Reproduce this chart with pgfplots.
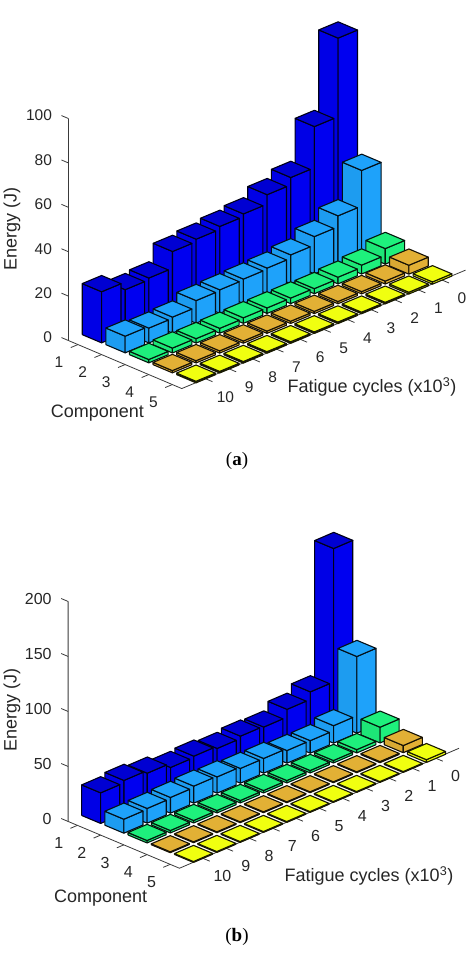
\documentclass[border=0pt]{standalone}
\usepackage{fontspec}
\setmainfont{Liberation Sans}
\newfontfamily\capfont{Liberation Serif}
\usepackage{pgfplots}
\usepackage{pgfplotstable}
\pgfplotsset{compat=1.18}

\definecolor{col1}{HTML}{0000F0}
\definecolor{col2}{HTML}{1EA2FA}
\definecolor{col3}{HTML}{1EF07C}
\definecolor{col4}{HTML}{E2B035}
\definecolor{col5}{HTML}{F0FF10}
\definecolor{top1}{HTML}{0000D2}
\definecolor{top2}{HTML}{1EA2FA}
\definecolor{top3}{HTML}{1EF07C}
\definecolor{top4}{HTML}{E2B035}
\definecolor{top5}{HTML}{F0FF10}
\definecolor{axcol}{HTML}{3A3A3A}

% energy per fatigue cycle (rows) and component (columns)
\pgfplotstableread{
f  c1   c2   c3  c4  c5
0  92.8 37.7 7.0 4.0 1.0
1  57.4 21.7 4.0 1.3 0.8
2  38.9 16.8 3.0 1.0 0.7
3  35.6 13.0 2.3 1.0 0.7
4  31.4 11.5 2.5 1.0 0.7
5  30.2 11.0 2.5 1.0 0.7
6  28.9 10.6 2.5 1.0 0.7
7  27.8 10.2 2.2 1.0 0.7
8  20.3  7.2 2.0 1.0 0.7
9  19.5  6.7 2.2 1.0 0.7
10 23.0  7.5 1.5 1.0 0.7
}\tableA

\pgfplotstableread{
f  c1    c2   c3   c4  c5
0  159.0 69.7 14.3 6.5 2.5
1  37.8  15.9 3.0  1.0 0.8
2  31.0  11.4 2.2  0.8 0.8
3  24.0  11.5 2.2  0.8 0.8
4  24.8  13.4 2.2  0.8 0.8
5  22.7  13.4 2.2  0.8 0.8
6  24.8  14.8 2.2  0.8 0.8
7  23.6  15.5 2.2  0.8 0.8
8  27.5  14.3 2.2  0.8 0.8
9  30.0  13.4 2.2  0.8 0.8
10 27.8  12.7 2.2  0.8 0.8
}\tableB

\pgfplotsset{
  chart3d/.style={
    hide axis, disabledatascaling, clip=false, anchor=origin,
    xmin=-1, xmax=11, ymin=0, ymax=7, zmin=0,
  },
  face/.style={line width=1.1pt, line join=round},
}

% one bar: f, component, height, colour number
\newcommand\onebar[4]{%
  \pgfmathsetmacro\xa{#1-0.41}\pgfmathsetmacro\xb{#1+0.41}%
  \pgfmathsetmacro\ya{#2-0.41}\pgfmathsetmacro\yb{#2+0.41}%
  \edef\tmp{%
    \noexpand\addplot3[face,draw=col#4!10!black,fill=col#4!96!black] coordinates {(\xb,\ya,0)(\xb,\yb,0)(\xb,\yb,#3)(\xb,\ya,#3)(\xb,\ya,0)};
    \noexpand\addplot3[face,draw=col#4!10!black,fill=col#4] coordinates {(\xb,\yb,0)(\xa,\yb,0)(\xa,\yb,#3)(\xb,\yb,#3)(\xb,\yb,0)};
    \noexpand\addplot3[face,draw=col#4!10!black,fill=top#4] coordinates {(\xb,\ya,#3)(\xb,\yb,#3)(\xa,\yb,#3)(\xa,\ya,#3)(\xb,\ya,#3)};
  }\tmp
}

% back to front: component 1 to 5, cycle 0 to 10
\newcommand\allbars[1]{%
  \pgfplotsforeachungrouped \cc in {1,...,5}{%
    \pgfplotsforeachungrouped \ff in {0,...,10}{%
      \pgfplotstablegetelem{\ff}{c\cc}\of{#1}%
      \edef\tmpb{\noexpand\onebar{\ff}{\cc}{\pgfplotsretval}{\cc}}\tmpb
    }%
  }%
}

\newcommand\floorlines[3]{%
  \draw[axcol,line width=0.8pt] (axis cs:11,0.6,#1) -- (axis cs:11,0.6,0) -- (axis cs:11,5.4,0) -- (axis cs:-1,5.4,0);
  \pgfplotsinvokeforeach{#2}{%
    \draw[axcol,line width=0.8pt] (axis cs:11,0.6,##1) -- (axis cs:11,0.3,##1);
    \node[anchor=east,text=black!85,xshift=-6pt,font=\fontsize{#3}{18}\selectfont] at (axis cs:11,0.3,##1) {##1};
  }
  \pgfplotsinvokeforeach{1,...,5}{%
    \draw[axcol,line width=0.8pt] (axis cs:11,##1,0) -- (axis cs:11.3,##1,0);
    \node[text=black!85,font=\fontsize{#3}{18}\selectfont] at (axis cs:12.3,##1.5,0) {##1};
  }
  \pgfplotsinvokeforeach{0,...,10}{%
    \draw[axcol,line width=0.8pt] (axis cs:##1,5.4,0) -- (axis cs:##1,5.7,0);
    \node[text=black!85,font=\fontsize{#3}{18}\selectfont] at (axis cs:##1+0.5,6.75,0) {##1};
  }
}

\begin{document}
\begin{tikzpicture}
\useasboundingbox (0,0) rectangle (474pt,955pt);

\begin{axis}[chart3d, at={(314.5pt,729pt)}, zmax=100,
  x={(-23.65pt,-9.87pt)}, y={(23.6pt,-10pt)}, z={(0pt,2.22pt)}]
\floorlines{100}{0,20,...,100}{15.5}
\allbars{\tableA}
\end{axis}

\begin{axis}[chart3d, at={(310.5pt,249.4pt)}, zmax=200,
  x={(-23.3pt,-10pt)}, y={(23.2pt,-9.75pt)}, z={(0pt,1.1pt)}]
\floorlines{200}{0,50,...,200}{16}
\allbars{\tableB}
\end{axis}

\tikzset{lab/.style={text=black!85,font=\fontsize{18}{20}\selectfont}}
\node[lab,rotate=90] at (12pt,726pt) {Energy (J)};
\node[lab] at (97.3pt,541.7pt) {Component};
\node[lab] at (372pt,568.3pt) {Fatigue cycles (x10\textsuperscript{3})};
\node[font=\capfont\fontsize{19}{21}\selectfont] at (237pt,494.3pt) {(\textbf{a})};

\node[lab,rotate=90] at (12pt,245pt) {Energy (J)};
\node[lab] at (100.7pt,56.7pt) {Component};
\node[lab] at (369pt,79pt) {Fatigue cycles (x10\textsuperscript{3})};
\node[font=\capfont\fontsize{19}{21}\selectfont] at (237pt,18.3pt) {(\textbf{b})};
\end{tikzpicture}
\end{document}
